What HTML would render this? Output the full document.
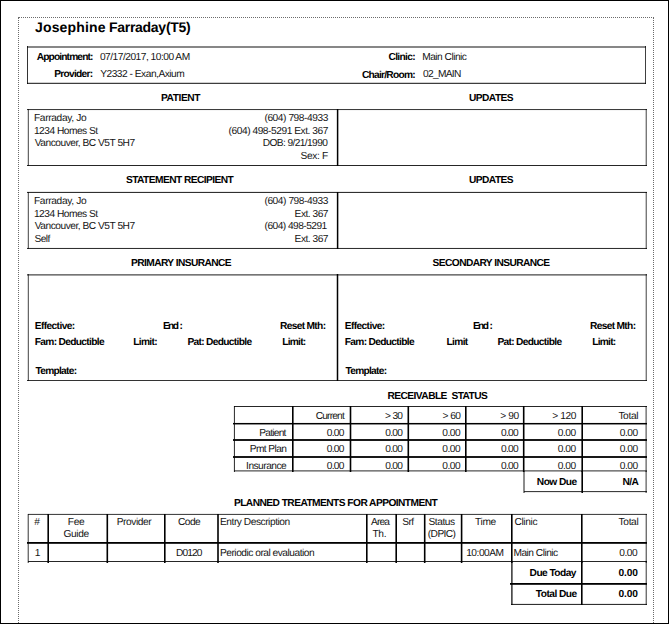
<!DOCTYPE html>
<html><head><meta charset="utf-8"><title>Appointment</title>
<style>
html,body{margin:0;padding:0;background:#fff}
body{width:669px;height:624px;position:relative;overflow:hidden;font-family:"Liberation Sans", Arial, sans-serif;text-rendering:geometricPrecision;font-size:10.2px;line-height:13px;color:#151515}
.frame{position:absolute;left:0;top:0;width:669px;height:624px;box-sizing:border-box;border:1px solid #000}
.dot{position:absolute;left:18px;top:17px;width:636px;height:700px;box-sizing:border-box;border:1px dotted #6a6a6a}
.t{position:absolute;white-space:pre}
.l{position:absolute}
</style></head><body>
<div class="frame"></div>
<div class="dot"></div>
<div class="l" style="left:27px;top:46px;width:619px;height:1px;background:rgba(0,0,0,0.47)"></div>
<div class="l" style="left:27px;top:47px;width:619px;height:1px;background:rgba(0,0,0,0.47)"></div>
<div class="l" style="left:27px;top:82px;width:619px;height:1px;background:rgba(0,0,0,0.19)"></div>
<div class="l" style="left:27px;top:83px;width:619px;height:1px;background:rgba(0,0,0,0.76)"></div>
<div class="l" style="left:27px;top:46px;width:1px;height:38px;background:rgba(0,0,0,0.80)"></div>
<div class="l" style="left:645px;top:46px;width:1px;height:38px;background:rgba(0,0,0,0.75)"></div>
<div class="l" style="left:27px;top:109px;width:620px;height:1px;background:rgba(0,0,0,0.76)"></div>
<div class="l" style="left:27px;top:110px;width:620px;height:1px;background:rgba(0,0,0,0.04)"></div>
<div class="l" style="left:27px;top:165px;width:620px;height:1px;background:rgba(0,0,0,0.85)"></div>
<div class="l" style="left:27px;top:109px;width:1px;height:57px;background:rgba(0,0,0,0.15)"></div>
<div class="l" style="left:28px;top:109px;width:1px;height:57px;background:rgba(0,0,0,0.60)"></div>
<div class="l" style="left:336px;top:109px;width:1px;height:57px;background:rgba(0,0,0,0.15)"></div>
<div class="l" style="left:337px;top:109px;width:1px;height:57px;background:rgba(0,0,0,1.00)"></div>
<div class="l" style="left:338px;top:109px;width:1px;height:57px;background:rgba(0,0,0,0.35)"></div>
<div class="l" style="left:645px;top:109px;width:1px;height:57px;background:rgba(0,0,0,0.22)"></div>
<div class="l" style="left:646px;top:109px;width:1px;height:57px;background:rgba(0,0,0,0.53)"></div>
<div class="l" style="left:27px;top:191px;width:620px;height:1px;background:rgba(0,0,0,0.09)"></div>
<div class="l" style="left:27px;top:192px;width:620px;height:1px;background:rgba(0,0,0,0.81)"></div>
<div class="l" style="left:27px;top:247px;width:620px;height:1px;background:rgba(0,0,0,0.04)"></div>
<div class="l" style="left:27px;top:248px;width:620px;height:1px;background:rgba(0,0,0,0.81)"></div>
<div class="l" style="left:27px;top:192px;width:1px;height:57px;background:rgba(0,0,0,0.15)"></div>
<div class="l" style="left:28px;top:192px;width:1px;height:57px;background:rgba(0,0,0,0.60)"></div>
<div class="l" style="left:336px;top:192px;width:1px;height:57px;background:rgba(0,0,0,0.15)"></div>
<div class="l" style="left:337px;top:192px;width:1px;height:57px;background:rgba(0,0,0,1.00)"></div>
<div class="l" style="left:338px;top:192px;width:1px;height:57px;background:rgba(0,0,0,0.35)"></div>
<div class="l" style="left:645px;top:192px;width:1px;height:57px;background:rgba(0,0,0,0.22)"></div>
<div class="l" style="left:646px;top:192px;width:1px;height:57px;background:rgba(0,0,0,0.53)"></div>
<div class="l" style="left:27px;top:274px;width:620px;height:1px;background:rgba(0,0,0,0.54)"></div>
<div class="l" style="left:27px;top:275px;width:620px;height:1px;background:rgba(0,0,0,0.36)"></div>
<div class="l" style="left:27px;top:380px;width:620px;height:1px;background:rgba(0,0,0,0.80)"></div>
<div class="l" style="left:27px;top:274px;width:1px;height:107px;background:rgba(0,0,0,0.15)"></div>
<div class="l" style="left:28px;top:274px;width:1px;height:107px;background:rgba(0,0,0,0.60)"></div>
<div class="l" style="left:336px;top:274px;width:1px;height:107px;background:rgba(0,0,0,0.25)"></div>
<div class="l" style="left:337px;top:274px;width:1px;height:107px;background:rgba(0,0,0,1.00)"></div>
<div class="l" style="left:338px;top:274px;width:1px;height:107px;background:rgba(0,0,0,0.25)"></div>
<div class="l" style="left:645px;top:274px;width:1px;height:107px;background:rgba(0,0,0,0.22)"></div>
<div class="l" style="left:646px;top:274px;width:1px;height:107px;background:rgba(0,0,0,0.53)"></div>
<div class="l" style="left:234px;top:406px;width:413px;height:1px;background:rgba(0,0,0,0.85)"></div>
<div class="l" style="left:233px;top:422px;width:414px;height:1px;background:rgba(0,0,0,0.05)"></div>
<div class="l" style="left:233px;top:423px;width:414px;height:1px;background:rgba(0,0,0,1.00)"></div>
<div class="l" style="left:233px;top:424px;width:414px;height:1px;background:rgba(0,0,0,0.45)"></div>
<div class="l" style="left:233px;top:439px;width:414px;height:1px;background:rgba(0,0,0,0.90)"></div>
<div class="l" style="left:233px;top:440px;width:414px;height:1px;background:rgba(0,0,0,0.90)"></div>
<div class="l" style="left:233px;top:456px;width:414px;height:1px;background:rgba(0,0,0,0.90)"></div>
<div class="l" style="left:233px;top:457px;width:414px;height:1px;background:rgba(0,0,0,0.90)"></div>
<div class="l" style="left:234px;top:470px;width:413px;height:1px;background:rgba(0,0,0,0.51)"></div>
<div class="l" style="left:234px;top:471px;width:413px;height:1px;background:rgba(0,0,0,0.34)"></div>
<div class="l" style="left:233px;top:406px;width:1px;height:66px;background:rgba(0,0,0,0.08)"></div>
<div class="l" style="left:234px;top:406px;width:1px;height:66px;background:rgba(0,0,0,0.77)"></div>
<div class="l" style="left:292px;top:406px;width:1px;height:66px;background:rgba(0,0,0,1.00)"></div>
<div class="l" style="left:293px;top:406px;width:1px;height:66px;background:rgba(0,0,0,0.60)"></div>
<div class="l" style="left:349px;top:406px;width:1px;height:66px;background:rgba(0,0,0,0.30)"></div>
<div class="l" style="left:350px;top:406px;width:1px;height:66px;background:rgba(0,0,0,1.00)"></div>
<div class="l" style="left:351px;top:406px;width:1px;height:66px;background:rgba(0,0,0,0.30)"></div>
<div class="l" style="left:407px;top:406px;width:1px;height:66px;background:rgba(0,0,0,0.50)"></div>
<div class="l" style="left:408px;top:406px;width:1px;height:66px;background:rgba(0,0,0,1.00)"></div>
<div class="l" style="left:409px;top:406px;width:1px;height:66px;background:rgba(0,0,0,0.10)"></div>
<div class="l" style="left:465px;top:406px;width:1px;height:66px;background:rgba(0,0,0,1.00)"></div>
<div class="l" style="left:466px;top:406px;width:1px;height:66px;background:rgba(0,0,0,0.60)"></div>
<div class="l" style="left:522px;top:406px;width:1px;height:66px;background:rgba(0,0,0,0.10)"></div>
<div class="l" style="left:523px;top:406px;width:1px;height:66px;background:rgba(0,0,0,1.00)"></div>
<div class="l" style="left:524px;top:406px;width:1px;height:66px;background:rgba(0,0,0,0.50)"></div>
<div class="l" style="left:581px;top:406px;width:1px;height:66px;background:rgba(0,0,0,0.60)"></div>
<div class="l" style="left:582px;top:406px;width:1px;height:66px;background:rgba(0,0,0,1.00)"></div>
<div class="l" style="left:645px;top:406px;width:1px;height:66px;background:rgba(0,0,0,0.32)"></div>
<div class="l" style="left:646px;top:406px;width:1px;height:66px;background:rgba(0,0,0,0.48)"></div>
<div class="l" style="left:523px;top:471px;width:1px;height:22px;background:rgba(0,0,0,0.45)"></div>
<div class="l" style="left:524px;top:471px;width:1px;height:22px;background:rgba(0,0,0,0.45)"></div>
<div class="l" style="left:581px;top:471px;width:1px;height:22px;background:rgba(0,0,0,0.60)"></div>
<div class="l" style="left:582px;top:471px;width:1px;height:22px;background:rgba(0,0,0,1.00)"></div>
<div class="l" style="left:645px;top:471px;width:1px;height:22px;background:rgba(0,0,0,0.32)"></div>
<div class="l" style="left:646px;top:471px;width:1px;height:22px;background:rgba(0,0,0,0.48)"></div>
<div class="l" style="left:524px;top:491px;width:123px;height:1px;background:rgba(0,0,0,0.76)"></div>
<div class="l" style="left:524px;top:492px;width:123px;height:1px;background:rgba(0,0,0,0.09)"></div>
<div class="l" style="left:28px;top:513px;width:619px;height:1px;background:rgba(0,0,0,0.08)"></div>
<div class="l" style="left:28px;top:514px;width:619px;height:1px;background:rgba(0,0,0,0.72)"></div>
<div class="l" style="left:27px;top:542px;width:620px;height:1px;background:rgba(0,0,0,1.00)"></div>
<div class="l" style="left:27px;top:543px;width:620px;height:1px;background:rgba(0,0,0,0.80)"></div>
<div class="l" style="left:28px;top:561px;width:619px;height:1px;background:rgba(0,0,0,0.85)"></div>
<div class="l" style="left:27px;top:514px;width:1px;height:49px;background:rgba(0,0,0,0.24)"></div>
<div class="l" style="left:28px;top:514px;width:1px;height:49px;background:rgba(0,0,0,0.56)"></div>
<div class="l" style="left:47px;top:514px;width:1px;height:49px;background:rgba(0,0,0,0.60)"></div>
<div class="l" style="left:48px;top:514px;width:1px;height:49px;background:rgba(0,0,0,1.00)"></div>
<div class="l" style="left:106px;top:514px;width:1px;height:49px;background:rgba(0,0,0,0.50)"></div>
<div class="l" style="left:107px;top:514px;width:1px;height:49px;background:rgba(0,0,0,1.00)"></div>
<div class="l" style="left:108px;top:514px;width:1px;height:49px;background:rgba(0,0,0,0.10)"></div>
<div class="l" style="left:164px;top:514px;width:1px;height:49px;background:rgba(0,0,0,1.00)"></div>
<div class="l" style="left:165px;top:514px;width:1px;height:49px;background:rgba(0,0,0,0.60)"></div>
<div class="l" style="left:217px;top:514px;width:1px;height:49px;background:rgba(0,0,0,0.80)"></div>
<div class="l" style="left:218px;top:514px;width:1px;height:49px;background:rgba(0,0,0,0.80)"></div>
<div class="l" style="left:366px;top:514px;width:1px;height:49px;background:rgba(0,0,0,1.00)"></div>
<div class="l" style="left:367px;top:514px;width:1px;height:49px;background:rgba(0,0,0,0.60)"></div>
<div class="l" style="left:395px;top:514px;width:1px;height:49px;background:rgba(0,0,0,0.60)"></div>
<div class="l" style="left:396px;top:514px;width:1px;height:49px;background:rgba(0,0,0,1.00)"></div>
<div class="l" style="left:423px;top:514px;width:1px;height:49px;background:rgba(0,0,0,0.10)"></div>
<div class="l" style="left:424px;top:514px;width:1px;height:49px;background:rgba(0,0,0,1.00)"></div>
<div class="l" style="left:425px;top:514px;width:1px;height:49px;background:rgba(0,0,0,0.50)"></div>
<div class="l" style="left:460px;top:514px;width:1px;height:49px;background:rgba(0,0,0,0.20)"></div>
<div class="l" style="left:461px;top:514px;width:1px;height:49px;background:rgba(0,0,0,1.00)"></div>
<div class="l" style="left:462px;top:514px;width:1px;height:49px;background:rgba(0,0,0,0.40)"></div>
<div class="l" style="left:511px;top:514px;width:1px;height:49px;background:rgba(0,0,0,1.00)"></div>
<div class="l" style="left:512px;top:514px;width:1px;height:49px;background:rgba(0,0,0,0.60)"></div>
<div class="l" style="left:581px;top:514px;width:1px;height:49px;background:rgba(0,0,0,1.00)"></div>
<div class="l" style="left:582px;top:514px;width:1px;height:49px;background:rgba(0,0,0,0.60)"></div>
<div class="l" style="left:645px;top:514px;width:1px;height:49px;background:rgba(0,0,0,0.24)"></div>
<div class="l" style="left:646px;top:514px;width:1px;height:49px;background:rgba(0,0,0,0.56)"></div>
<div class="l" style="left:510px;top:583px;width:137px;height:1px;background:rgba(0,0,0,1.00)"></div>
<div class="l" style="left:510px;top:584px;width:137px;height:1px;background:rgba(0,0,0,0.80)"></div>
<div class="l" style="left:511px;top:603px;width:136px;height:1px;background:rgba(0,0,0,0.09)"></div>
<div class="l" style="left:511px;top:604px;width:136px;height:1px;background:rgba(0,0,0,0.81)"></div>
<div class="l" style="left:511px;top:561px;width:1px;height:44px;background:rgba(0,0,0,0.70)"></div>
<div class="l" style="left:512px;top:561px;width:1px;height:44px;background:rgba(0,0,0,0.50)"></div>
<div class="l" style="left:581px;top:561px;width:1px;height:44px;background:rgba(0,0,0,1.00)"></div>
<div class="l" style="left:582px;top:561px;width:1px;height:44px;background:rgba(0,0,0,0.60)"></div>
<div class="l" style="left:645px;top:561px;width:1px;height:44px;background:rgba(0,0,0,0.24)"></div>
<div class="l" style="left:646px;top:561px;width:1px;height:44px;background:rgba(0,0,0,0.56)"></div>
<div class="t" style="top:18.15px;font-size:14px;line-height:18px;font-weight:bold;color:#000;letter-spacing:0.150px;left:35.00px">Josephine</div>
<div class="t" style="top:18.15px;font-size:14px;line-height:18px;font-weight:bold;color:#000;letter-spacing:-0.277px;left:108.96px">Farraday(T5)</div>
<div class="t" style="top:50.97px;font-weight:bold;color:#000;letter-spacing:-0.855px;right:576.42px">Appointment:</div>
<div class="t" style="top:50.97px;letter-spacing:-0.501px;left:99.96px">07/17/2017, 10:00 AM</div>
<div class="t" style="top:67.97px;font-weight:bold;color:#000;letter-spacing:-0.720px;right:576.56px">Provider:</div>
<div class="t" style="top:67.97px;letter-spacing:-0.491px;left:100.22px">Y2332 - Exan,Axium</div>
<div class="t" style="top:51.37px;font-weight:bold;color:#000;letter-spacing:-0.683px;right:254.10px">Clinic:</div>
<div class="t" style="top:50.97px;letter-spacing:-0.510px;left:422.20px">Main Clinic</div>
<div class="t" style="top:69.37px;font-weight:bold;color:#000;letter-spacing:-0.734px;right:254.05px">Chair/Room:</div>
<div class="t" style="top:67.97px;letter-spacing:-0.697px;left:423.00px">02_MAIN</div>
<div class="t" style="top:91.97px;font-weight:bold;color:#000;letter-spacing:-0.457px;left:30.47px;width:300px;text-align:center">PATIENT</div>
<div class="t" style="top:91.97px;font-weight:bold;color:#000;letter-spacing:-0.537px;left:341.03px;width:300px;text-align:center">UPDATES</div>
<div class="t" style="top:111.97px;letter-spacing:-0.336px;left:33.94px">Farraday, Jo</div>
<div class="t" style="top:124.97px;letter-spacing:-0.504px;left:33.94px">1234 Homes St</div>
<div class="t" style="top:136.97px;letter-spacing:-0.482px;left:34.74px">Vancouver, BC V5T 5H7</div>
<div class="t" style="top:111.97px;letter-spacing:-0.442px;right:341.08px">(604) 798-4933</div>
<div class="t" style="top:124.97px;letter-spacing:-0.456px;right:341.06px">(604) 498-5291 Ext. 367</div>
<div class="t" style="top:136.97px;letter-spacing:-0.609px;right:341.71px">DOB: 9/21/1990</div>
<div class="t" style="top:149.97px;letter-spacing:-0.366px;right:341.15px">Sex: F</div>
<div class="t" style="top:174.47px;font-weight:bold;color:#000;letter-spacing:-0.559px;left:29.58px;width:300px;text-align:center">STATEMENT RECIPIENT</div>
<div class="t" style="top:174.47px;font-weight:bold;color:#000;letter-spacing:-0.537px;left:341.03px;width:300px;text-align:center">UPDATES</div>
<div class="t" style="top:194.97px;letter-spacing:-0.336px;left:33.94px">Farraday, Jo</div>
<div class="t" style="top:207.97px;letter-spacing:-0.504px;left:33.94px">1234 Homes St</div>
<div class="t" style="top:219.97px;letter-spacing:-0.482px;left:34.74px">Vancouver, BC V5T 5H7</div>
<div class="t" style="top:232.57px;letter-spacing:-0.563px;left:34.42px">Self</div>
<div class="t" style="top:194.97px;letter-spacing:-0.442px;right:341.08px">(604) 798-4933</div>
<div class="t" style="top:207.97px;letter-spacing:-0.498px;right:341.02px">Ext. 367</div>
<div class="t" style="top:219.97px;letter-spacing:-0.535px;right:342.28px">(604) 498-5291</div>
<div class="t" style="top:232.57px;letter-spacing:-0.498px;right:341.02px">Ext. 367</div>
<div class="t" style="top:256.97px;font-weight:bold;color:#000;letter-spacing:-0.575px;left:31.03px;width:300px;text-align:center">PRIMARY INSURANCE</div>
<div class="t" style="top:256.97px;font-weight:bold;color:#000;letter-spacing:-0.581px;left:341.05px;width:300px;text-align:center">SECONDARY INSURANCE</div>
<div class="t" style="top:319.97px;font-weight:bold;color:#000;letter-spacing:-0.604px;left:34.72px">Effective:</div>
<div class="t" style="top:319.97px;font-weight:bold;color:#000;letter-spacing:-1.670px;left:162.98px">End</div>
<div class="t" style="top:319.97px;font-weight:bold;color:#000;letter-spacing:-0.150px;left:179.42px">:</div>
<div class="t" style="top:319.97px;font-weight:bold;color:#000;letter-spacing:-0.666px;left:279.96px">Reset Mth:</div>
<div class="t" style="top:335.97px;font-weight:bold;color:#000;letter-spacing:-0.670px;left:34.72px">Fam: Deductible</div>
<div class="t" style="top:335.97px;font-weight:bold;color:#000;letter-spacing:-0.646px;left:133.20px">Limit:</div>
<div class="t" style="top:335.97px;font-weight:bold;color:#000;letter-spacing:-0.682px;left:187.46px">Pat: Deductible</div>
<div class="t" style="top:335.97px;font-weight:bold;color:#000;letter-spacing:-0.758px;left:282.22px">Limit:</div>
<div class="t" style="top:364.97px;font-weight:bold;color:#000;letter-spacing:-0.730px;left:35.52px">Template:</div>
<div class="t" style="top:319.97px;font-weight:bold;color:#000;letter-spacing:-0.604px;left:344.72px">Effective:</div>
<div class="t" style="top:319.97px;font-weight:bold;color:#000;letter-spacing:-1.670px;left:472.98px">End</div>
<div class="t" style="top:319.97px;font-weight:bold;color:#000;letter-spacing:-0.150px;left:489.42px">:</div>
<div class="t" style="top:319.97px;font-weight:bold;color:#000;letter-spacing:-0.666px;left:589.96px">Reset Mth:</div>
<div class="t" style="top:335.97px;font-weight:bold;color:#000;letter-spacing:-0.670px;left:344.72px">Fam: Deductible</div>
<div class="t" style="top:335.97px;font-weight:bold;color:#000;letter-spacing:-0.650px;left:446.48px">Limit</div>
<div class="t" style="top:335.97px;font-weight:bold;color:#000;letter-spacing:-0.682px;left:497.46px">Pat: Deductible</div>
<div class="t" style="top:335.97px;font-weight:bold;color:#000;letter-spacing:-0.758px;left:592.22px">Limit:</div>
<div class="t" style="top:364.97px;font-weight:bold;color:#000;letter-spacing:-0.730px;left:345.52px">Template:</div>
<div class="t" style="top:389.97px;font-weight:bold;color:#000;letter-spacing:-0.551px;left:387.46px">RECEIVABLE  STATUS</div>
<div class="t" style="top:409.97px;letter-spacing:-0.817px;right:325.00px">Current</div>
<div class="t" style="top:409.97px;letter-spacing:-0.671px;right:266.63px">&gt; 30</div>
<div class="t" style="top:409.97px;letter-spacing:-0.509px;right:208.53px">&gt; 60</div>
<div class="t" style="top:409.97px;letter-spacing:-0.431px;right:150.33px">&gt; 90</div>
<div class="t" style="top:409.97px;letter-spacing:-0.350px;right:92.85px">&gt; 120</div>
<div class="t" style="top:409.97px;letter-spacing:-0.350px;right:30.85px">Total</div>
<div class="t" style="top:426.97px;letter-spacing:-0.750px;right:383.35px">Patient</div>
<div class="t" style="top:426.97px;letter-spacing:-0.671px;right:325.15px">0.00</div>
<div class="t" style="top:426.97px;letter-spacing:-0.671px;right:266.63px">0.00</div>
<div class="t" style="top:426.97px;letter-spacing:-0.404px;right:208.64px">0.00</div>
<div class="t" style="top:426.97px;letter-spacing:-0.671px;right:150.89px">0.00</div>
<div class="t" style="top:426.97px;letter-spacing:-0.404px;right:93.12px">0.00</div>
<div class="t" style="top:426.97px;letter-spacing:-0.404px;right:31.12px">0.00</div>
<div class="t" style="top:443.37px;letter-spacing:-0.602px;right:382.70px">Pmt Plan</div>
<div class="t" style="top:443.37px;letter-spacing:-0.671px;right:325.15px">0.00</div>
<div class="t" style="top:443.37px;letter-spacing:-0.671px;right:266.63px">0.00</div>
<div class="t" style="top:443.37px;letter-spacing:-0.404px;right:208.64px">0.00</div>
<div class="t" style="top:443.37px;letter-spacing:-0.671px;right:150.89px">0.00</div>
<div class="t" style="top:443.37px;letter-spacing:-0.404px;right:93.12px">0.00</div>
<div class="t" style="top:443.37px;letter-spacing:-0.404px;right:31.12px">0.00</div>
<div class="t" style="top:459.77px;letter-spacing:-0.510px;right:382.79px">Insurance</div>
<div class="t" style="top:459.77px;letter-spacing:-0.671px;right:325.15px">0.00</div>
<div class="t" style="top:459.77px;letter-spacing:-0.671px;right:266.63px">0.00</div>
<div class="t" style="top:459.77px;letter-spacing:-0.404px;right:208.64px">0.00</div>
<div class="t" style="top:459.77px;letter-spacing:-0.671px;right:150.89px">0.00</div>
<div class="t" style="top:459.77px;letter-spacing:-0.404px;right:93.12px">0.00</div>
<div class="t" style="top:459.77px;letter-spacing:-0.404px;right:31.12px">0.00</div>
<div class="t" style="top:475.97px;font-weight:bold;color:#000;letter-spacing:-0.550px;right:92.45px">Now Due</div>
<div class="t" style="top:475.97px;font-weight:bold;color:#000;letter-spacing:-0.670px;right:30.91px">N/A</div>
<div class="t" style="top:496.97px;font-weight:bold;color:#000;letter-spacing:-0.546px;left:233.94px">PLANNED TREATMENTS FOR APPOINTMENT</div>
<div class="t" style="top:515.97px;letter-spacing:-0.350px;left:34.20px">#</div>
<div class="t" style="top:515.97px;letter-spacing:-0.350px;left:-73.88px;width:300px;text-align:center">Fee</div>
<div class="t" style="top:527.97px;letter-spacing:-0.350px;left:-73.88px;width:300px;text-align:center">Guide</div>
<div class="t" style="top:515.97px;letter-spacing:-0.442px;left:-16.10px;width:300px;text-align:center">Provider</div>
<div class="t" style="top:515.97px;letter-spacing:-0.510px;left:39.10px;width:300px;text-align:center">Code</div>
<div class="t" style="top:515.97px;letter-spacing:-0.460px;left:219.98px">Entry Description</div>
<div class="t" style="top:515.97px;letter-spacing:-0.803px;left:230.06px;width:300px;text-align:center">Area</div>
<div class="t" style="top:527.97px;letter-spacing:-0.350px;left:229.32px;width:300px;text-align:center">Th.</div>
<div class="t" style="top:515.97px;letter-spacing:-0.590px;left:257.94px;width:300px;text-align:center">Srf</div>
<div class="t" style="top:515.97px;letter-spacing:-0.446px;left:291.54px;width:300px;text-align:center">Status</div>
<div class="t" style="top:527.97px;letter-spacing:-0.590px;left:291.62px;width:300px;text-align:center">(DPIC)</div>
<div class="t" style="top:515.97px;letter-spacing:-0.350px;left:335.43px;width:300px;text-align:center">Time</div>
<div class="t" style="top:515.97px;letter-spacing:-0.350px;left:514.40px">Clinic</div>
<div class="t" style="top:515.97px;letter-spacing:-0.350px;right:30.65px">Total</div>
<div class="t" style="top:546.97px;letter-spacing:-0.350px;left:34.72px">1</div>
<div class="t" style="top:546.97px;letter-spacing:-0.870px;left:38.78px;width:300px;text-align:center">D0120</div>
<div class="t" style="top:546.97px;letter-spacing:-0.489px;left:219.98px">Periodic oral evaluation</div>
<div class="t" style="top:546.97px;letter-spacing:-0.483px;left:466.20px">10:00AM</div>
<div class="t" style="top:546.97px;letter-spacing:-0.510px;left:513.44px">Main Clinic</div>
<div class="t" style="top:546.97px;letter-spacing:-0.404px;right:31.64px">0.00</div>
<div class="t" style="top:567.47px;font-weight:bold;color:#000;letter-spacing:-0.550px;right:93.05px">Due Today</div>
<div class="t" style="top:567.47px;font-weight:bold;color:#000;letter-spacing:-0.150px;right:31.25px">0.00</div>
<div class="t" style="top:587.97px;font-weight:bold;color:#000;letter-spacing:-0.550px;right:92.45px">Total Due</div>
<div class="t" style="top:587.97px;font-weight:bold;color:#000;letter-spacing:-0.150px;right:31.25px">0.00</div>
</body></html>
